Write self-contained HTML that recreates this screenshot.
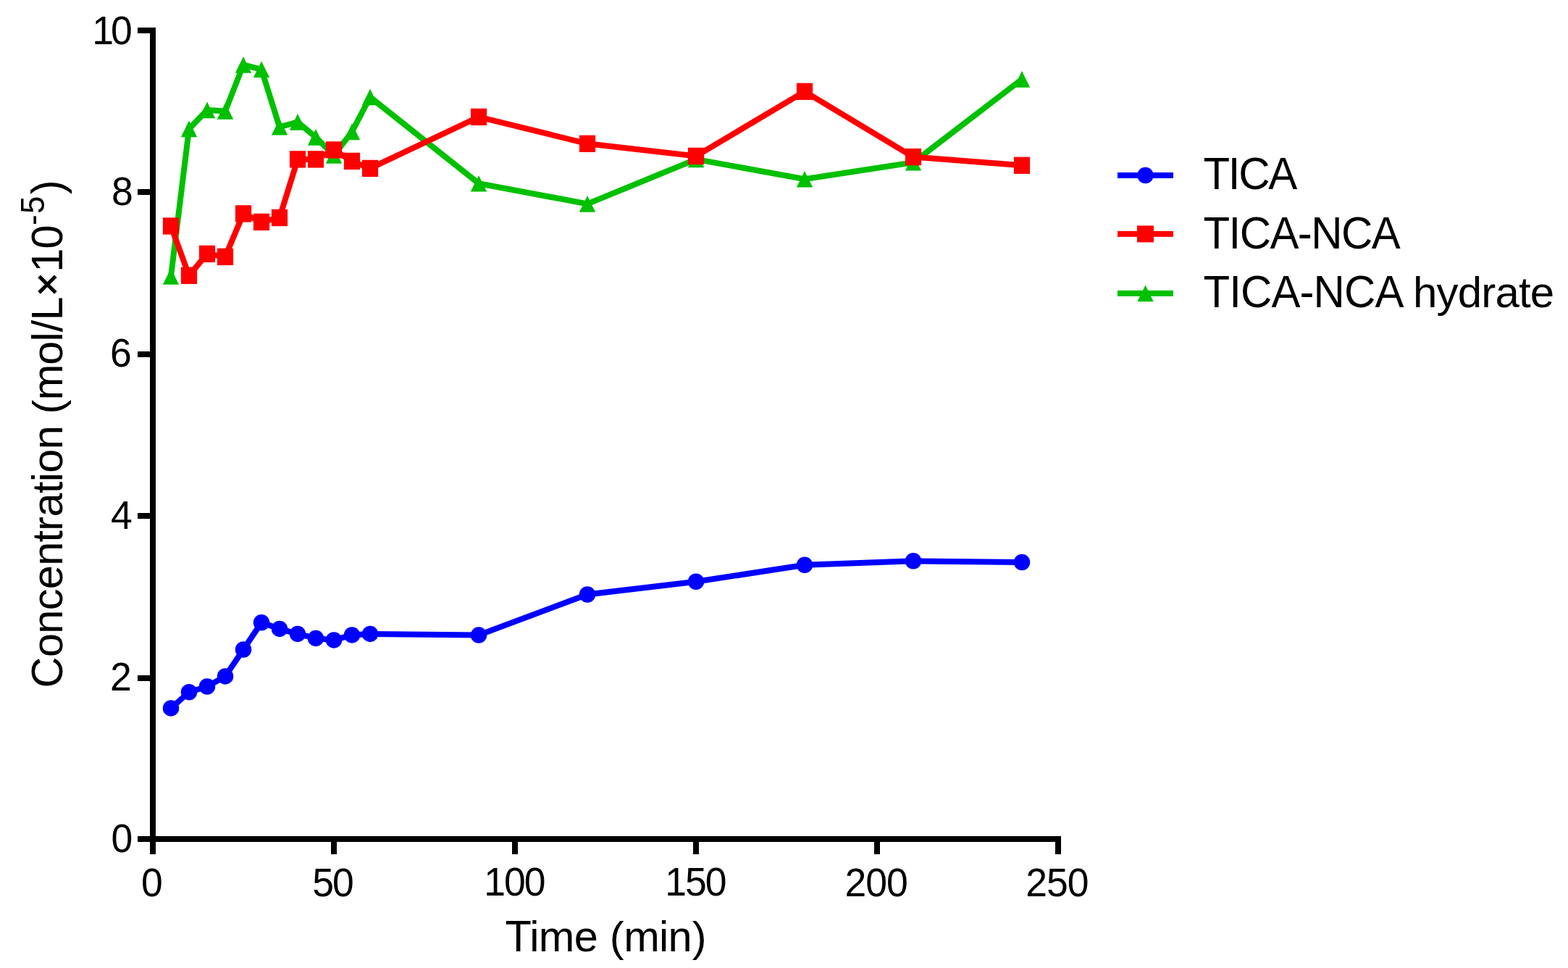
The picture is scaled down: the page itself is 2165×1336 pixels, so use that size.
<!DOCTYPE html>
<html><head><meta charset="utf-8"><title>Concentration vs Time</title>
<style>
html,body{margin:0;padding:0;background:#fff;}
body{width:2165px;height:1336px;overflow:hidden;}
svg{display:block;}
text{font-family:"Liberation Sans",Arial,sans-serif;fill:#000;}
</style></head>
<body>
<svg width="2165" height="1336" viewBox="0 0 2165 1336">
<rect width="2165" height="1336" fill="#fff"/>
<g fill="#000">
<rect x="207" y="38" width="8" height="1124"/>
<rect x="207" y="1154" width="1258" height="8"/>
<rect x="190" y="1154" width="17" height="8"/>
<rect x="190" y="932" width="17" height="8"/>
<rect x="190" y="708" width="17" height="8"/>
<rect x="190" y="485" width="17" height="8"/>
<rect x="190" y="261" width="17" height="8"/>
<rect x="190" y="38" width="17" height="8"/>
<rect x="207" y="1162" width="8" height="17"/>
<rect x="457" y="1162" width="8" height="17"/>
<rect x="707" y="1162" width="8" height="17"/>
<rect x="957" y="1162" width="8" height="17"/>
<rect x="1207" y="1162" width="8" height="17"/>
<rect x="1457" y="1162" width="8" height="17"/>
</g>
<g>
<text transform="translate(153.60,1176.20) scale(1,1.0400)" font-size="53.5">0</text>
<text transform="translate(151.90,952.50) scale(1,1.0400)" font-size="53.5">2</text>
<text transform="translate(152.90,730.00) scale(1,1.0400)" font-size="53.5">4</text>
<text transform="translate(151.90,506.00) scale(1,1.0400)" font-size="53.5">6</text>
<text transform="translate(153.90,283.00) scale(1,1.0400)" font-size="53.5">8</text>
<text transform="translate(127.30,60.50) scale(1,1.0400)" font-size="53.5" textLength="55.52" lengthAdjust="spacing">10</text>
<text transform="translate(195.12,1236.50) scale(1,1.0400)" font-size="53.5">0</text>
<text transform="translate(431.25,1236.50) scale(1,1.0400)" font-size="53.5" textLength="57.52" lengthAdjust="spacing">50</text>
<text transform="translate(668.37,1236.00) scale(1,1.0400)" font-size="53.5" textLength="85.26" lengthAdjust="spacing">100</text>
<text transform="translate(918.37,1236.00) scale(1,1.0400)" font-size="53.5" textLength="85.26" lengthAdjust="spacing">150</text>
<text transform="translate(1166.38,1236.50) scale(1,1.0400)" font-size="53.5" textLength="87.26" lengthAdjust="spacing">200</text>
<text transform="translate(1416.37,1236.50) scale(1,1.0400)" font-size="53.5" textLength="87.26" lengthAdjust="spacing">250</text>
<text transform="translate(697.50,1312.80) translate(0.00,0.00) scale(1,1.0410)" font-size="59.5">T</text>
<text transform="translate(697.50,1312.80) translate(33.69,0.00) scale(1,0.9900)" font-size="59.5" textLength="110.60" lengthAdjust="spacing" xml:space="preserve">ime </text>
<text transform="translate(697.50,1312.80) translate(144.29,0.00) scale(1,0.9600)" font-size="59.5">(</text>
<text transform="translate(697.50,1312.80) translate(163.65,0.00) scale(1,0.9900)" font-size="59.5" textLength="94.52" lengthAdjust="spacing">min</text>
<text transform="translate(697.50,1312.80) translate(258.17,0.00) scale(1,0.9600)" font-size="59.5">)</text>
<text transform="translate(1661.50,260.50) scale(1,1.0400)" font-size="60" textLength="129.66" lengthAdjust="spacing">TICA</text>
<text transform="translate(1661.50,343.30) scale(1,1.0400)" font-size="60" textLength="272.29" lengthAdjust="spacing">TICA-NCA</text>
<text transform="translate(1661.50,423.95) translate(0.00,0.00) scale(1,1.0410)" font-size="60" textLength="289.44" lengthAdjust="spacing" xml:space="preserve">TICA-NCA </text>
<text transform="translate(1661.50,423.95) translate(289.44,0.00) scale(1,0.9900)" font-size="60" textLength="195.31" lengthAdjust="spacing">hydrate</text>
<text transform="translate(85.65,949.40) rotate(-90) translate(0.00,0.00) scale(1,1.0410)" font-size="59.5">C</text>
<text transform="translate(85.65,949.40) rotate(-90) translate(42.31,0.00) scale(1,0.9900)" font-size="59.5" textLength="335.67" lengthAdjust="spacing" xml:space="preserve">oncentration </text>
<text transform="translate(85.65,949.40) rotate(-90) translate(377.98,0.00) scale(1,0.9600)" font-size="59.5">(</text>
<text transform="translate(85.65,949.40) rotate(-90) translate(397.15,0.00) scale(1,0.9900)" font-size="59.5" textLength="93.93" lengthAdjust="spacing">mol</text>
<text transform="translate(85.65,949.40) rotate(-90) translate(491.09,0.00) scale(1,1.0000)" font-size="59.5">/</text>
<text transform="translate(85.65,949.40) rotate(-90) translate(506.98,0.00) scale(1,1.0410)" font-size="59.5">L</text>
<text transform="translate(85.65,949.40) rotate(-90) translate(540.64,-1.39) scale(1,1.0000)" font-size="55.34" stroke="#000" stroke-width="1.1">×</text>
<text transform="translate(85.65,949.40) rotate(-90) translate(573.53,0.00) scale(1,1.0320)" font-size="59.5" textLength="65.55" lengthAdjust="spacing">10</text>
<text transform="translate(60.50,310.90) rotate(-90) scale(1,1.0400)" font-size="44" textLength="40.42" lengthAdjust="spacing">-5</text>
<text transform="translate(85.80,268.00) rotate(-90) scale(1,1.0400)" font-size="59.5">)</text>
</g>
<g>
<polyline points="236.0,381.5 261.0,177.9 286.0,151.9 311.0,153.4 336.0,89.4 361.0,95.8 386.0,175.3 411.0,168.4 436.0,189.4 461.0,214.4 486.0,181.9 511.0,134.0 661.0,253.2 811.0,281.4 961.0,219.9 1111.0,247.2 1261.0,224.3 1411.0,109.4" fill="none" stroke="#00C000" stroke-width="8" stroke-linejoin="miter" stroke-miterlimit="2"/>
<polygon points="236.00,370.20 247.20,392.80 224.80,392.80" fill="#00C000"/>
<polygon points="261.00,166.60 272.20,189.20 249.80,189.20" fill="#00C000"/>
<polygon points="286.00,140.60 297.20,163.20 274.80,163.20" fill="#00C000"/>
<polygon points="311.00,142.10 322.20,164.70 299.80,164.70" fill="#00C000"/>
<polygon points="336.00,78.10 347.20,100.70 324.80,100.70" fill="#00C000"/>
<polygon points="361.00,84.50 372.20,107.10 349.80,107.10" fill="#00C000"/>
<polygon points="386.00,164.00 397.20,186.60 374.80,186.60" fill="#00C000"/>
<polygon points="411.00,157.10 422.20,179.70 399.80,179.70" fill="#00C000"/>
<polygon points="436.00,178.10 447.20,200.70 424.80,200.70" fill="#00C000"/>
<polygon points="461.00,203.10 472.20,225.70 449.80,225.70" fill="#00C000"/>
<polygon points="486.00,170.60 497.20,193.20 474.80,193.20" fill="#00C000"/>
<polygon points="511.00,122.70 522.20,145.30 499.80,145.30" fill="#00C000"/>
<polygon points="661.00,241.90 672.20,264.50 649.80,264.50" fill="#00C000"/>
<polygon points="811.00,270.10 822.20,292.70 799.80,292.70" fill="#00C000"/>
<polygon points="961.00,208.60 972.20,231.20 949.80,231.20" fill="#00C000"/>
<polygon points="1111.00,235.90 1122.20,258.50 1099.80,258.50" fill="#00C000"/>
<polygon points="1261.00,213.00 1272.20,235.60 1249.80,235.60" fill="#00C000"/>
<polygon points="1411.00,98.10 1422.20,120.70 1399.80,120.70" fill="#00C000"/>
<polyline points="236.0,312.0 261.0,380.3 286.0,350.4 311.0,354.4 336.0,294.9 361.0,306.4 386.0,300.5 411.0,219.9 436.0,219.9 461.0,206.9 486.0,222.4 511.0,232.4 661.0,161.4 811.0,198.3 961.0,215.4 1111.0,126.3 1261.0,216.6 1411.0,228.3" fill="none" stroke="#FF0000" stroke-width="8" stroke-linejoin="miter" stroke-miterlimit="2"/>
<rect x="224.90" y="300.35" width="22.2" height="23.3" fill="#FF0000"/>
<rect x="249.90" y="368.65" width="22.2" height="23.3" fill="#FF0000"/>
<rect x="274.90" y="338.75" width="22.2" height="23.3" fill="#FF0000"/>
<rect x="299.90" y="342.75" width="22.2" height="23.3" fill="#FF0000"/>
<rect x="324.90" y="283.25" width="22.2" height="23.3" fill="#FF0000"/>
<rect x="349.90" y="294.75" width="22.2" height="23.3" fill="#FF0000"/>
<rect x="374.90" y="288.85" width="22.2" height="23.3" fill="#FF0000"/>
<rect x="399.90" y="208.25" width="22.2" height="23.3" fill="#FF0000"/>
<rect x="424.90" y="208.25" width="22.2" height="23.3" fill="#FF0000"/>
<rect x="449.90" y="195.25" width="22.2" height="23.3" fill="#FF0000"/>
<rect x="474.90" y="210.75" width="22.2" height="23.3" fill="#FF0000"/>
<rect x="499.90" y="220.75" width="22.2" height="23.3" fill="#FF0000"/>
<rect x="649.90" y="149.75" width="22.2" height="23.3" fill="#FF0000"/>
<rect x="799.90" y="186.65" width="22.2" height="23.3" fill="#FF0000"/>
<rect x="949.90" y="203.75" width="22.2" height="23.3" fill="#FF0000"/>
<rect x="1099.90" y="114.65" width="22.2" height="23.3" fill="#FF0000"/>
<rect x="1249.90" y="204.95" width="22.2" height="23.3" fill="#FF0000"/>
<rect x="1399.90" y="216.65" width="22.2" height="23.3" fill="#FF0000"/>
<polyline points="236.0,977.4 261.0,955.3 286.0,947.5 311.0,933.4 336.0,896.5 361.0,859.3 386.0,867.9 411.0,874.9 436.0,880.9 461.0,883.4 486.0,876.4 511.0,874.9 661.0,876.6 811.0,820.5 961.0,802.8 1111.0,779.7 1261.0,774.3 1411.0,776.0" fill="none" stroke="#0000FF" stroke-width="8" stroke-linejoin="miter" stroke-miterlimit="2"/>
<circle cx="236.0" cy="977.4" r="11.25" fill="#0000FF"/>
<circle cx="261.0" cy="955.3" r="11.25" fill="#0000FF"/>
<circle cx="286.0" cy="947.5" r="11.25" fill="#0000FF"/>
<circle cx="311.0" cy="933.4" r="11.25" fill="#0000FF"/>
<circle cx="336.0" cy="896.5" r="11.25" fill="#0000FF"/>
<circle cx="361.0" cy="859.3" r="11.25" fill="#0000FF"/>
<circle cx="386.0" cy="867.9" r="11.25" fill="#0000FF"/>
<circle cx="411.0" cy="874.9" r="11.25" fill="#0000FF"/>
<circle cx="436.0" cy="880.9" r="11.25" fill="#0000FF"/>
<circle cx="461.0" cy="883.4" r="11.25" fill="#0000FF"/>
<circle cx="486.0" cy="876.4" r="11.25" fill="#0000FF"/>
<circle cx="511.0" cy="874.9" r="11.25" fill="#0000FF"/>
<circle cx="661.0" cy="876.6" r="11.25" fill="#0000FF"/>
<circle cx="811.0" cy="820.5" r="11.25" fill="#0000FF"/>
<circle cx="961.0" cy="802.8" r="11.25" fill="#0000FF"/>
<circle cx="1111.0" cy="779.7" r="11.25" fill="#0000FF"/>
<circle cx="1261.0" cy="774.3" r="11.25" fill="#0000FF"/>
<circle cx="1411.0" cy="776.0" r="11.25" fill="#0000FF"/>
</g>
<g>
<rect x="1543" y="238.0" width="77" height="8" fill="#0000FF"/>
<circle cx="1581.5" cy="242.0" r="11.25" fill="#0000FF"/>
<rect x="1543" y="318.9" width="77" height="8" fill="#FF0000"/>
<rect x="1570.00" y="311.40" width="23" height="23" fill="#FF0000"/>
<rect x="1543" y="400.9" width="77" height="8" fill="#00C000"/>
<polygon points="1581.50,393.60 1592.70,416.20 1570.30,416.20" fill="#00C000"/>
</g>
</svg>
</body></html>
